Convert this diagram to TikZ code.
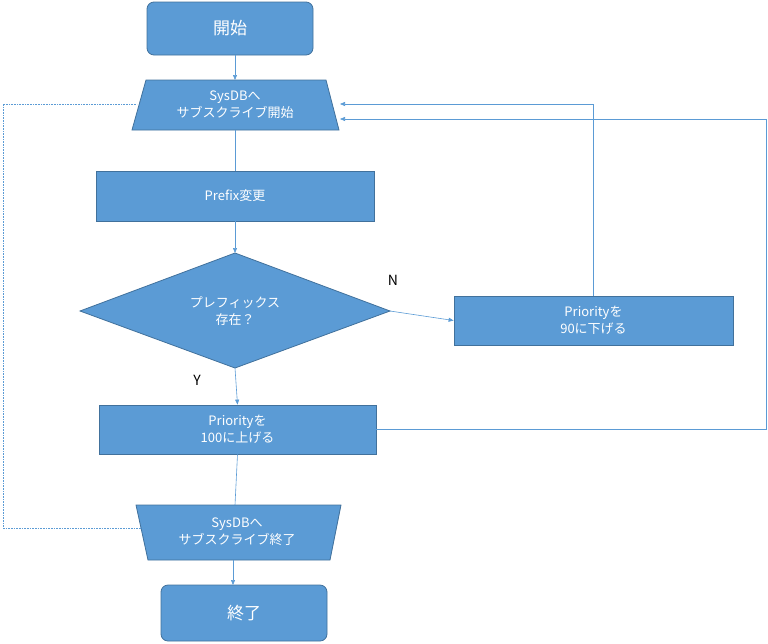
\documentclass[tikz,border=0pt]{standalone}
\usepackage{fontspec}
\setmainfont{Noto Sans CJK JP}
\usetikzlibrary{arrows.meta}
\definecolor{bf}{HTML}{5B9BD5}
\definecolor{bd}{HTML}{41719C}
\begin{document}
\begin{tikzpicture}[x=1pt,y=-1pt,
  box/.style={draw=bd,fill=bf,line width=0.8pt,text=white,font=\fontsize{13}{17}\selectfont,align=center},
  ln/.style={draw=bf,line width=0.6pt},
  ar/.style={ln,-{Triangle[length=5pt,width=4pt]}},
  lab/.style={font=\fontsize{14}{16}\selectfont}]
\useasboundingbox (0,0) rectangle (768,643);
% shapes
\draw[box,rounded corners=7pt] (147,2) rectangle (313,55);
\node[text=white,font=\fontsize{17}{20}\selectfont] (start) at (230,28) {開始};
\draw[box] (146,80) -- (326,80) -- (339,130) -- (132,130) -- cycle;
\node[text=white,align=center,font=\fontsize{13}{17}\selectfont] (sub) at (235,105) {SysDBへ\\サブスクライブ開始};
\node[box,minimum width=278pt,minimum height=50pt] (pre) at (235,196) {Prefix変更};
\draw[box] (80,311) -- (235,253) -- (390,311) -- (235,368) -- cycle;
\node[text=white,align=center,font=\fontsize{13}{17}\selectfont] (dia) at (235,311) {プレフィックス\\存在？};
\node[box,minimum width=279pt,minimum height=49pt] (p90) at (593.5,320.5) {Priorityを\\90に下げる};
\node[box,minimum width=277pt,minimum height=49pt] (p100) at (237.5,429.5) {Priorityを\\100に上げる};
\draw[box] (136,505) -- (341,505) -- (330,560) -- (148,560) -- cycle;
\node[text=white,align=center,font=\fontsize{13}{17}\selectfont] (subend) at (237,532) {SysDBへ\\サブスクライブ終了};
\draw[box,rounded corners=7pt] (161,585) rectangle (327,641);
\node[text=white,font=\fontsize{17}{20}\selectfont] (end) at (244,613) {終了};
% coordinates
\coordinate (a1) at (235,55);
\coordinate (a2) at (235,80);
\coordinate (b1) at (235,130);
\coordinate (c1) at (235,368);
\coordinate (c2) at (390,311);
\coordinate (d1) at (235,505);
\coordinate (e1) at (233,560);
\coordinate (e2) at (233,585);
\coordinate (t90) at (340,104);
\coordinate (t100) at (340,119);
\coordinate (tl) at (137,104);
\coordinate (bl) at (141,528);
% connectors
\draw[ar] (a1) -- (a2);
\draw[ln] (b1) -- (pre.north);
\draw[ar] (pre.south) -- (dia |- 0,253);
\draw[ar] (c1) -- (p100.north);
\draw[ar] (c2) -- (p90.west);
\draw[ar] (p90.north) |- (t90);
\draw[ar] (p100.east) -- (766,429.5) |- (t100);
\draw[ln] (p100.south) -- (d1);
\draw[ar] (e1) -- (e2);
\draw[ln,densely dotted,line width=0.7pt] (bl) -- (3,528) -- (3,104) -- (tl);
\node[lab] (N) at (393,280) {N};
\node[lab] (Y) at (197,380) {Y};
\end{tikzpicture}
\end{document}
